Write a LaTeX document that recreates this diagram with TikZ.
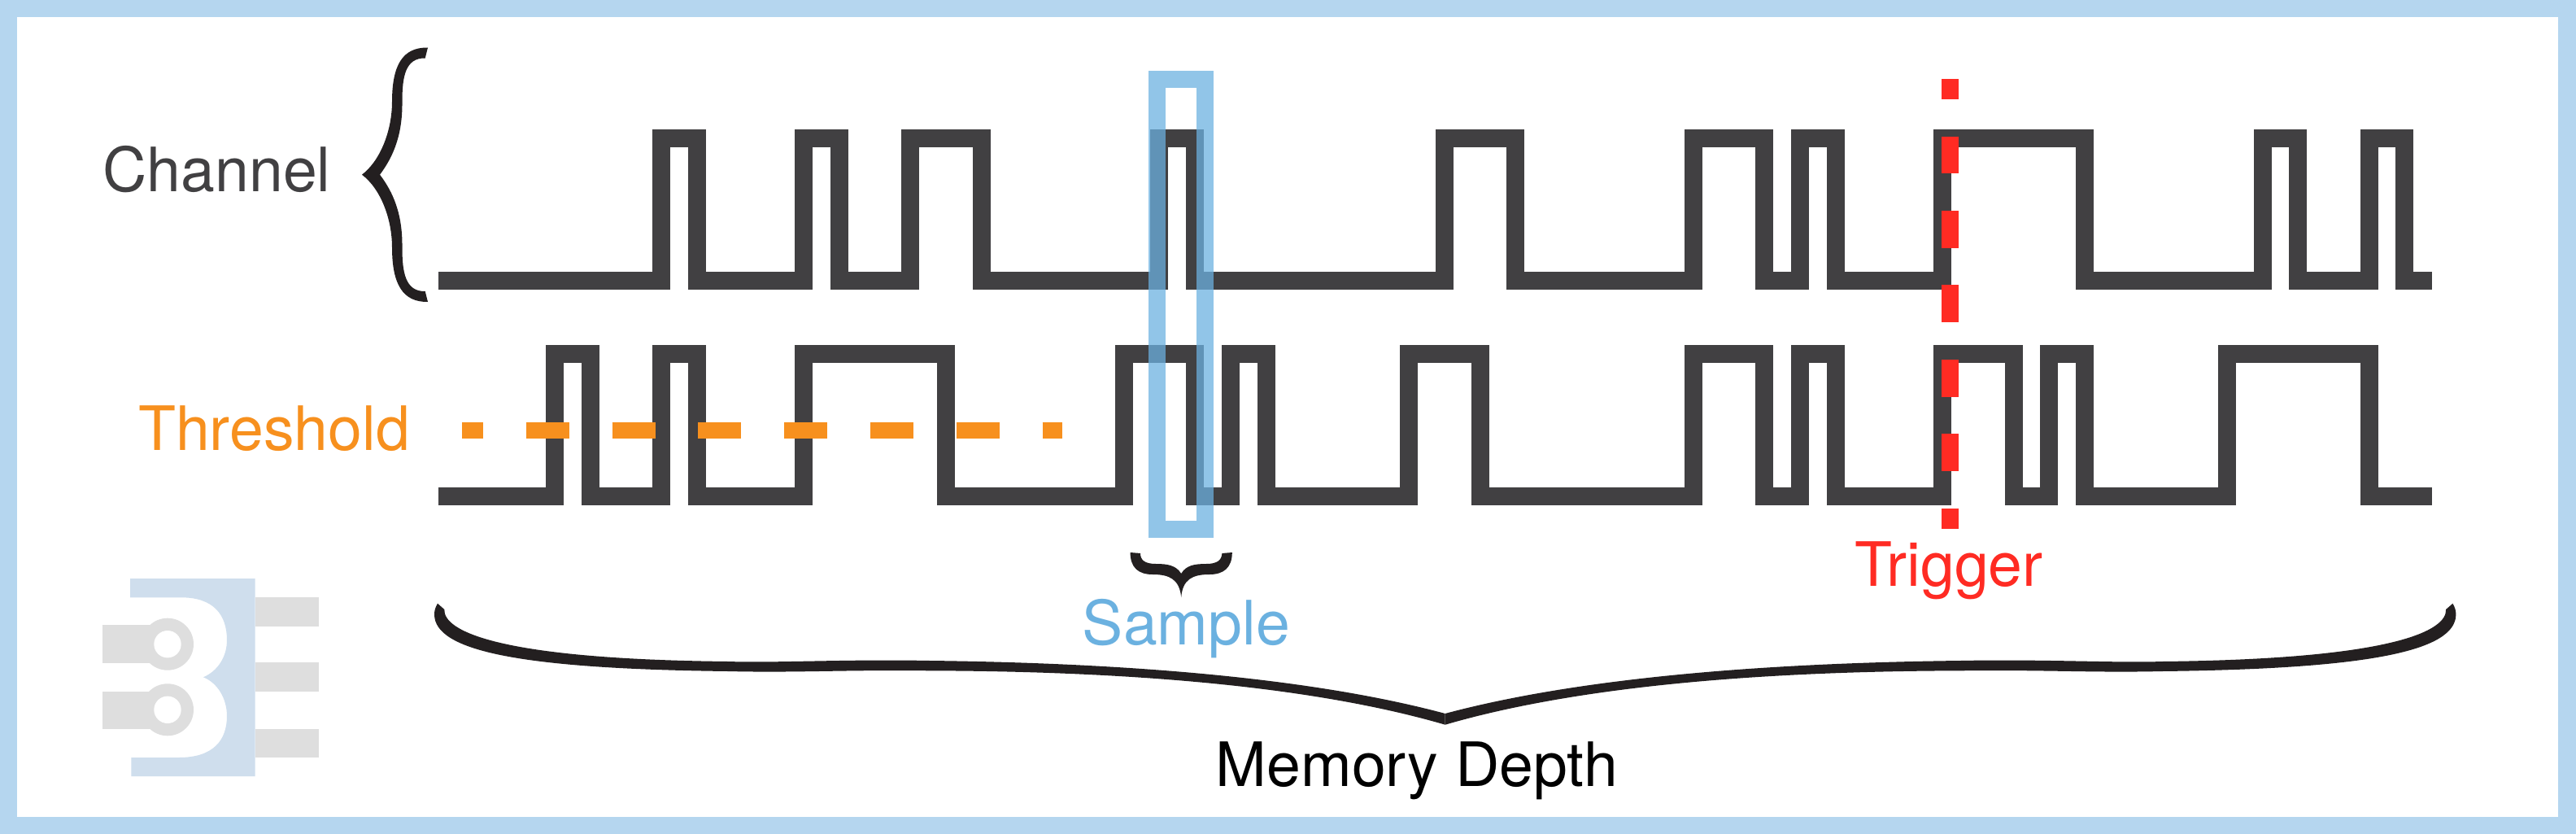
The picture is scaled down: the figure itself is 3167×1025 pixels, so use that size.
\documentclass[tikz,border=0pt]{standalone}
\usepackage{fontspec}
\setmainfont{TeX Gyre Heros}
\definecolor{framec}{HTML}{B5D6EF}
\definecolor{tracec}{HTML}{414042}
\definecolor{bracec}{HTML}{231F20}
\definecolor{orangec}{HTML}{F7901E}
\definecolor{redc}{HTML}{FF2B23}
\definecolor{samplec}{HTML}{6BB1E0}
\definecolor{logob}{HTML}{CFDEED}
\definecolor{logog}{HTML}{DEDEDE}
\tikzset{
  trace/.style={draw=tracec,line width=22pt,miter limit=10},
  label/.style={inner sep=0pt,anchor=base,font=\fontsize{75.2}{80}\selectfont},
  bracefill/.style={fill=bracec,draw=none},
  thresholdline/.style={draw=orangec,line width=20.5pt,dash pattern=on 53pt off 52.8pt,dash phase=27pt},
  triggerline/.style={draw=redc,line width=21pt,dash pattern=on 45.8pt off 45.6pt,dash phase=20.8pt},
  samplebox/.style={draw=samplec,draw opacity=.74,line width=21pt}
}
\newcommand{\halfbigbrace}{%
  \fill[bracec] (538,741.7) -- (546.3,749)
    .. controls (545,775) and (610,810) .. (895,813)
    .. controls (950,815) and (1040,810) .. (1143,812)
    .. controls (1400,815) and (1620,835) .. (1776.7,877)
    -- (1776.7,890.7)
    .. controls (1620,845) and (1400,825) .. (1143,824.3)
    .. controls (1040,823) and (980,827) .. (895,825)
    .. controls (640,822) and (534,800) .. (534,755)
    .. controls (534,750) and (535.5,746) .. (538,741.7) -- cycle;%
}
\begin{document}
\begin{tikzpicture}[x=1pt,y=-1pt]
\useasboundingbox (0,0) rectangle (3167,1025);
\fill[framec] (0,0) rectangle (3167,1025);
\fill[white] (21,21) rectangle (3145,1004);
% logo
\fill[logob] (160,711) -- (313.7,711) -- (313.7,954) -- (161.3,954) -- (161.3,931) -- (220,931)
  .. controls (262,931) and (279,910) .. (279,880)
  .. controls (279,858) and (267,839) .. (250,832.3)
  .. controls (267,825) and (279,808) .. (279,786.7)
  .. controls (279,755) and (262,734.3) .. (223,734.3)
  -- (160,734.3) -- cycle;
\fill[logog] (313.7,734) rectangle (392,769.7);
\fill[logog] (313.7,814.3) rectangle (392,850.3);
\fill[logog] (313.7,895.7) rectangle (392,931);
\fill[logog] (126,768.3) rectangle (200,815);
\fill[logog] (126,849.7) rectangle (200,895.7);
\fill[logog] (206,791.7) circle (32);
\fill[logog] (206,872.3) circle (32);
\fill[white] (206,791.7) circle (16.7);
\fill[white] (206,872.3) circle (16.7);
% traces
\draw[trace] (539,344.5) -| (813,169.5) -| (857,344.5) -| (988,169.5) -| (1032,344.5)
  -| (1119,169.5) -| (1207,344.5) -| (1425,169.5) -| (1469,344.5) -| (1776,169.5)
  -| (1863,344.5) -| (2082,169.5) -| (2169,344.5) -| (2213,169.5) -| (2257,344.5)
  -| (2388,169.5) -| (2563,344.5) -| (2782,169.5) -| (2825,344.5) -| (2913,169.5)
  -| (2956,344.5) -- (2990,344.5);
\draw[trace] (539,610) -| (682,435) -| (725.5,610) -| (813,435) -| (857,610) -| (988,435)
  -| (1163,610) -| (1382,435) -| (1469,610) -| (1513,435) -| (1556.6,610) -| (1732,435)
  -| (1819.6,610) -| (2082,435) -| (2169,610) -| (2213,435) -| (2257,610) -| (2388,435)
  -| (2475.6,610) -| (2519,435) -| (2563,610) -| (2738,435) -| (2913,610) -- (2990,610);
% threshold and trigger
\draw[thresholdline] (568,529) -- (1306,529);
\draw[triggerline] (2397.5,97) -- (2397.5,650);
% sample window
\draw[samplebox] (1422.5,97) rectangle (1481.5,650);
% braces
\fill[bracec] (526,58.5) .. controls (495,58) and (482,80) .. (482,125)
  .. controls (482,160) and (468,197) .. (445,214.7)
  .. controls (468,232) and (482,269) .. (482,304)
  .. controls (482,349) and (495,371.5) .. (526,371)
  -- (522.7,358) .. controls (498,358.5) and (494.5,334) .. (494.5,304)
  .. controls (495,264) and (484,237) .. (467,214.7)
  .. controls (484,192) and (495,165) .. (494.5,125)
  .. controls (494.5,95) and (498,71) .. (522.7,71.5) -- cycle;
\fill[bracec] (1389.6,679) .. controls (1389.6,698) and (1400,706) .. (1417,706)
  .. controls (1438,706) and (1450,712) .. (1452.2,734)
  .. controls (1454,712) and (1466,706) .. (1487,706)
  .. controls (1504,706) and (1514.8,698) .. (1514.8,679)
  -- (1502.4,680) .. controls (1502,688) and (1497,693) .. (1483,693)
  .. controls (1468,693) and (1458,695) .. (1452.2,705)
  .. controls (1446,695) and (1436,693) .. (1421,693)
  .. controls (1407,693) and (1402,688) .. (1402,680) -- cycle;
\halfbigbrace
\begin{scope}[xshift=3553.4pt,xscale=-1]
\halfbigbrace
\end{scope}
% labels
\node[label,text=tracec] (channel) at (266.5,235.5) {Channel};
\node[label,text=orangec] (threshold) at (337,553) {Threshold};
\node[label,text=samplec] (sample) at (1458.5,792.7) {Sample};
\node[label,text=redc] (trigger) at (2396,720) {Trigger};
\node[label,text=black] (memory) at (1742,966.7) {Memory Depth};
\end{tikzpicture}
\end{document}
